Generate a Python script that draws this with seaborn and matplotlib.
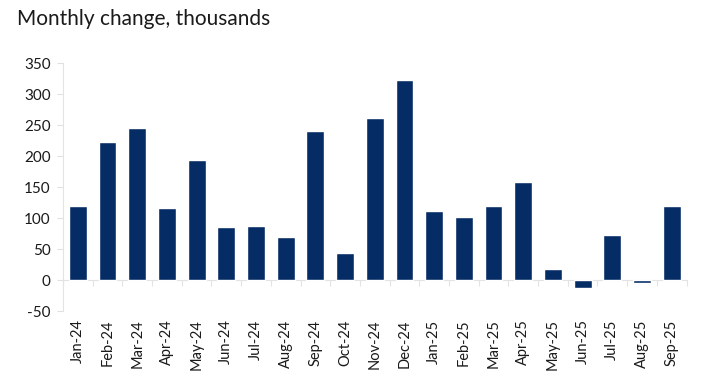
import numpy as np
import pandas as pd
import matplotlib
matplotlib.use("Agg")
import matplotlib.pyplot as plt
import seaborn as sns

months = ["Jan-24", "Feb-24", "Mar-24", "Apr-24", "May-24", "Jun-24", "Jul-24",
          "Aug-24", "Sep-24", "Oct-24", "Nov-24", "Dec-24", "Jan-25", "Feb-25",
          "Mar-25", "Apr-25", "May-25", "Jun-25", "Jul-25", "Aug-25", "Sep-25"]
change = [119, 222, 246, 117, 193, 86, 88, 70, 240, 43, 261, 323, 111, 101,
          120, 158, 18, -13, 72, -4, 119]
yticks = [-50, 0, 50, 100, 150, 200, 250, 300, 350]

df = pd.DataFrame({"month": months, "change": change})

sns.set_style("white")
plt.rcParams["font.family"] = ["Lato", "DejaVu Sans"]

fig = plt.figure(figsize=(7.2, 3.85), dpi=100)
ax = fig.add_axes([0.0875, 0.192, 0.866, 0.644])

sns.barplot(data=df, x="month", y="change", color="#062C66", saturation=1,
            width=0.6, ax=ax)

ax.set_xlim(-0.5, len(months) - 0.5)
ax.set_ylim(-50, 350)
ax.set_yticks(yticks)
ax.set_yticklabels([str(v) for v in yticks], fontsize=11, color="#1a1a1a")
ax.set_xlabel("")
ax.set_ylabel("")

# labels at the bottom, no tick marks there
ax.tick_params(axis="x", length=0, labelsize=10.5, labelcolor="#1a1a1a",
               rotation=90, pad=6)
ax.tick_params(axis="y", length=4, color="#e0e0e0", width=0.8, left=True, pad=5)

for s in ["top", "right", "bottom"]:
    ax.spines[s].set_visible(False)
ax.spines["left"].set_color("#e3e3e3")
ax.spines["left"].set_linewidth(0.8)

# category axis running through zero, ticks between the bars
frac0 = (0 - (-50)) / 400
sec = ax.secondary_xaxis(frac0)
sec.set_xticks(np.arange(len(months) + 1) - 0.5)
sec.tick_params(axis="x", length=4, color="#e3e3e3", width=0.8,
                labelbottom=False, direction="out")
sec.spines["bottom"].set_color("#e3e3e3")
sec.spines["bottom"].set_linewidth(0.8)

fig.text(0.024, 0.935, "Monthly change, thousands", fontsize=15, color="#1a1a1a",
         ha="left", va="baseline")

fig.savefig("out.png", dpi=100)
